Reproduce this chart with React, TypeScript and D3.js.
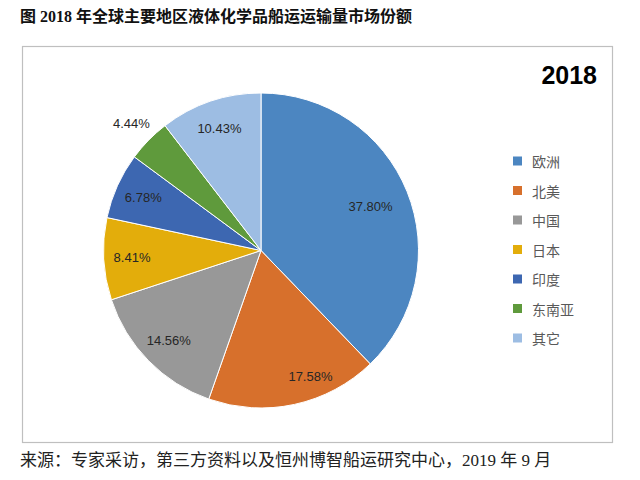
import { useRef, useEffect } from 'react'
import * as d3 from 'd3'

const W = 640
const H = 480

const TITLE = '图 2018 年全球主要地区液体化学品船运运输量市场份额'
const SOURCE = '来源：专家采访，第三方资料以及恒州博智船运研究中心，2019 年 9 月'
const YEAR_LABEL = '2018'

const regions = ['欧洲', '北美', '中国', '日本', '印度', '东南亚', '其它']
const shares = [37.8, 17.58, 14.56, 8.41, 6.78, 4.44, 10.43]
const colors = ['#4c86c1', '#d7702c', '#989898', '#e3ad0b', '#3d67b1', '#5f9a3c', '#9dbde3']

// Excel "best fit" label nudges (px) per slice
const labelNudge: [number, number][] = [
  [0, 0], [22, 0], [0, 0], [0, 0], [0, 0], [0, 0], [0, 0],
]

const FRAME = { x: 22, y: 46, w: 590, h: 396 }
const PIE = { cx: 261, cy: 250.5, r: 157.5 }

export default function App() {
  const svgRef = useRef<SVGSVGElement>(null)

  useEffect(() => {
    document.body.style.margin = '0'
    if (!svgRef.current) return
    const svg = d3.select(svgRef.current)
    svg.selectAll('*').remove()

    svg.append('rect').attr('width', W).attr('height', H).attr('fill', '#fff')

    // Title
    svg.append('text')
      .attr('x', 20).attr('y', 22)
      .attr('font-family', "'Liberation Serif', 'Noto Sans CJK SC', serif")
      .attr('font-weight', 'bold')
      .attr('font-size', 16)
      .attr('fill', '#111')
      .text(TITLE)

    // Chart frame
    svg.append('rect')
      .attr('x', FRAME.x + 0.5).attr('y', FRAME.y + 0.5)
      .attr('width', FRAME.w).attr('height', FRAME.h)
      .attr('fill', '#fff').attr('stroke', '#bfbfbf').attr('stroke-width', 1.2)

    // Year label
    svg.append('text')
      .attr('x', 597).attr('y', 84)
      .attr('text-anchor', 'end')
      .attr('font-family', "'Liberation Sans', Arial, sans-serif")
      .attr('font-weight', 'bold')
      .attr('font-size', 25)
      .attr('fill', '#000')
      .text(YEAR_LABEL)

    const data = regions.map((name, i) => ({ name, value: shares[i], color: colors[i], i }))
    const pie = d3.pie<typeof data[number]>().sort(null).value((d) => d.value)
    const arcs = pie(data)
    const arc = d3.arc<d3.PieArcDatum<typeof data[number]>>().innerRadius(0).outerRadius(PIE.r)

    const g = svg.append('g').attr('transform', `translate(${PIE.cx},${PIE.cy})`)
    g.selectAll('path.slice')
      .data(arcs)
      .join('path')
      .attr('class', 'slice')
      .attr('d', arc)
      .attr('fill', (d) => d.data.color)
      .attr('stroke', '#fff')
      .attr('stroke-width', 1)

    // Labels: inside at ~0.8R, small slices outside
    g.selectAll('text.lbl')
      .data(arcs)
      .join('text')
      .attr('class', 'lbl')
      .each(function (d) {
        const share = d.data.value
        const rr = share < 5 ? PIE.r + 24 : share > 30 ? PIE.r * 0.75 : PIE.r * 0.82
        const a = (d.startAngle + d.endAngle) / 2
        const nudge = labelNudge[d.data.i]
        d3.select(this)
          .attr('x', Math.sin(a) * rr + nudge[0])
          .attr('y', -Math.cos(a) * rr + nudge[1])
      })
      .attr('text-anchor', 'middle')
      .attr('dominant-baseline', 'central')
      .attr('font-family', "'Liberation Sans', Arial, sans-serif")
      .attr('font-size', 13)
      .attr('fill', '#262626')
      .text((d) => `${d.data.value.toFixed(2)}%`)

    // Legend
    const legend = svg.append('g').attr('transform', 'translate(513,161)')
    const rows = legend.selectAll('g.row')
      .data(data)
      .join('g')
      .attr('class', 'row')
      .attr('transform', (_, i) => `translate(0,${i * 29.5})`)
    rows.append('rect')
      .attr('x', 0).attr('y', -4.5)
      .attr('width', 9).attr('height', 9)
      .attr('fill', (d) => d.color)
    rows.append('text')
      .attr('x', 19).attr('y', 0)
      .attr('dominant-baseline', 'central')
      .attr('font-family', "'Noto Sans CJK SC', sans-serif")
      .attr('font-size', 14)
      .attr('fill', '#595959')
      .text((d) => d.name)

    // Source
    svg.append('text')
      .attr('x', 20).attr('y', 466)
      .attr('font-family', "'Liberation Serif', 'Noto Sans CJK SC', serif")
      .attr('font-size', 17)
      .attr('fill', '#222')
      .text(SOURCE)
  }, [])

  return <svg ref={svgRef} width={W} height={H} style={{ display: 'block' }} />
}
